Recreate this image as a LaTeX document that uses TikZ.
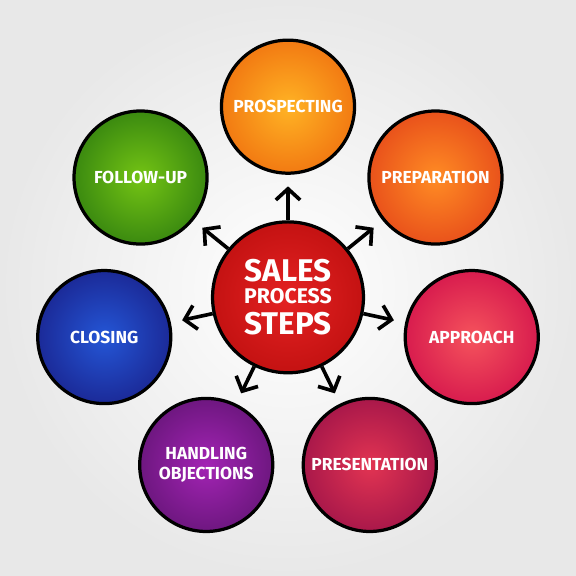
\documentclass[tikz,border=0pt]{standalone}
\usepackage{fontspec}
\setmainfont{Fira Sans}
\usepackage{tikz}
\usepackage{xcolor}
\usetikzlibrary{
    arrows.meta,
    calc,
    positioning
}
\definecolor{prosA}{HTML}{FFB324}
\definecolor{prosB}{HTML}{F27A12}
\definecolor{prepA}{HTML}{FF8C24}
\definecolor{prepB}{HTML}{E9521B}
\definecolor{apprA}{HTML}{F5535C}
\definecolor{apprB}{HTML}{D81C4E}
\definecolor{presA}{HTML}{E23452}
\definecolor{presB}{HTML}{A9184A}
\definecolor{handA}{HTML}{A324B4}
\definecolor{handB}{HTML}{6E1780}
\definecolor{closA}{HTML}{2456D6}
\definecolor{closB}{HTML}{1B2A98}
\definecolor{follA}{HTML}{74C414}
\definecolor{follB}{HTML}{3B8A10}
\definecolor{mainA}{HTML}{E42222}
\definecolor{mainB}{HTML}{C41212}
\tikzset{stp/.style={circle, draw=black, line width=1.6pt, minimum size=2.31cm,
    inner sep=0pt, align=center, text=white, font=\bfseries\fontsize{8.6}{10}\selectfont},
    arw/.style={line width=1.8pt, -{Straight Barb[length=5.5pt, width=12pt]}, shorten >=0.2cm}}

\begin{document}
\begin{tikzpicture}
                        \shade[inner color=white, outer color=black!9] (-5, -4.878) rectangle (5, 5.122);
                        \useasboundingbox (-5, -4.878) rectangle (5, 5.122);

                        \node[stp, minimum size=2.62cm, inner color=mainA, outer color=mainB] (c) at (0, -0.04)
                            {{\fontsize{15.5}{15}\selectfont SALES}\\[1pt]
                             {\fontsize{10.5}{12}\selectfont PROCESS}\\[3pt]
                             {\fontsize{15.5}{15}\selectfont STEPS}};

                        \node[stp, inner color=prosA, outer color=prosB] (pros) at (0, 3.27) {PROSPECTING};
                        \node[stp, inner color=prepA, outer color=prepB] (prep) at (2.56, 2.04) {PREPARATION};
                        \node[stp, inner color=apprA, outer color=apprB] (appr) at (3.19, -0.73) {APPROACH};
                        \node[stp, inner color=presA, outer color=presB] (pres) at (1.42, -2.95) {PRESENTATION};
                        \node[stp, inner color=handA, outer color=handB] (hand) at (-1.42, -2.95) {HANDLING\\OBJECTIONS};
                        \node[stp, inner color=closA, outer color=closB] (clos) at (-3.19, -0.73) {CLOSING};
                        \node[stp, inner color=follA, outer color=follB] (foll) at (-2.56, 2.04) {FOLLOW-UP};

                        \draw[arw] (c) -- (pros);
                        \draw[arw] (c) -- (prep);
                        \draw[arw] (c) -- (appr);
                        \draw[arw] (c) -- (pres);
                        \draw[arw] (c) -- (hand);
                        \draw[arw] (c) -- (clos);
                        \draw[arw] (c) -- (foll);
                    \end{tikzpicture}
\end{document}
